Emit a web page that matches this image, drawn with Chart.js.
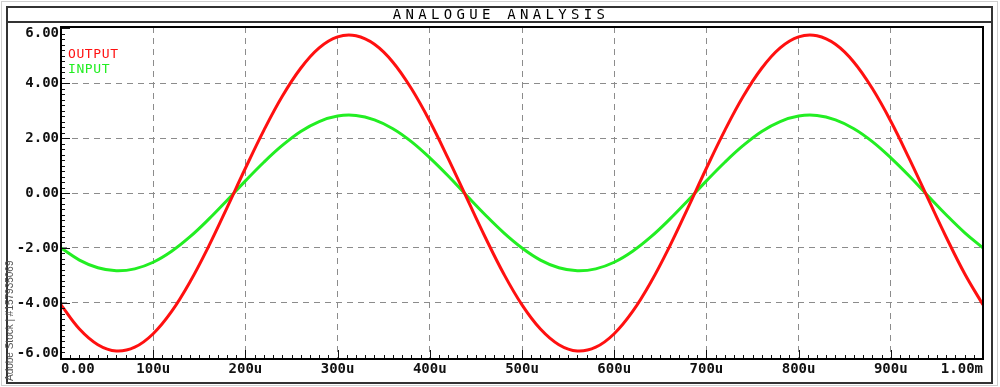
<!DOCTYPE html>
<html><head><meta charset="utf-8">
<script src="https://cdn.jsdelivr.net/npm/chart.js@4.4.1/dist/chart.umd.min.js"></script>
<style>html,body{margin:0;padding:0;background:#fff;overflow:hidden}canvas{display:block}</style>
</head><body><canvas id="c" width="1000" height="387"></canvas>
<script>
// time in microseconds
const times = [0,20,40,60,80,100,120,140,160,180,200,220,240,260,280,300,320,340,360,380,400,420,440,460,480,
               500,520,540,560,580,600,620,640,660,680,700,720,740,760,780,800,820,840,860,880,900,920,940,960,980,1000];
const outputV = [-4.07,-4.95,-5.52,-5.75,-5.61,-5.12,-4.31,-3.23,-1.95,-0.54,0.90,2.28,3.52,4.54,5.28,5.68,5.72,5.41,4.76,3.80,2.61,1.25,-0.18,-1.60,-2.93,
                 -4.07,-4.95,-5.52,-5.75,-5.61,-5.12,-4.31,-3.23,-1.95,-0.54,0.90,2.28,3.52,4.54,5.28,5.68,5.72,5.41,4.76,3.80,2.61,1.25,-0.18,-1.60,-2.93,-4.07];
const inputV = [-2.00,-2.44,-2.72,-2.83,-2.76,-2.52,-2.12,-1.59,-0.96,-0.27,0.44,1.12,1.73,2.24,2.60,2.80,2.82,2.66,2.34,1.87,1.28,0.62,-0.09,-0.79,-1.44,
                -2.00,-2.44,-2.72,-2.83,-2.76,-2.52,-2.12,-1.59,-0.96,-0.27,0.44,1.12,1.73,2.24,2.60,2.80,2.82,2.66,2.34,1.87,1.28,0.62,-0.09,-0.79,-1.44,-2.00];
const yTicks = [-6,-4,-2,0,2,4,6];
const yTickLabels = ['-6.00','-4.00','-2.00','0.00','2.00','4.00','6.00'];
const xTicks = [0,100,200,300,400,500,600,700,800,900,1000];
const xTickLabels = ['0.00','100u','200u','300u','400u','500u','600u','700u','800u','900u','1.00m'];
const titleText = 'ANALOGUE ANALYSIS';
const seriesNames = ['OUTPUT','INPUT'];
const seriesColors = ['#ff1010','#22ee22'];

const MONO = '"DejaVu Sans Mono", monospace';

const decor = {
  id: 'decor',
  afterDraw(chart) {
    const ctx = chart.ctx, a = chart.chartArea;
    const xs = chart.scales.x, ys = chart.scales.y;
    ctx.save();
    // minor / major ticks inside plot
    ctx.strokeStyle = '#111';
    ctx.lineWidth = 1;
    ctx.beginPath();
    for (let i = 0; i <= 100; i++) {
      const v = i * 10;
      const px = Math.round(xs.getPixelForValue(v)) + 0.5;
      const len = (i % 10 === 0) ? 9 : 4;
      ctx.moveTo(px, a.bottom); ctx.lineTo(px, a.bottom - len);
    }
    for (let i = -30; i <= 30; i++) {
      const v = i * 0.2;
      const py = Math.round(ys.getPixelForValue(v)) + 0.5;
      if (py < a.top || py > a.bottom) continue;
      const len = (i % 10 === 0) ? 9 : 4;
      ctx.moveTo(a.left, py); ctx.lineTo(a.left + len, py);
    }
    ctx.stroke();
    // plot border
    ctx.strokeStyle = '#000';
    ctx.lineWidth = 2;
    ctx.strokeRect(a.left, a.top, a.right - a.left, a.bottom - a.top);
    // outer light frame
    ctx.strokeStyle = '#cfcfcf';
    ctx.lineWidth = 1;
    ctx.strokeRect(1.5, 1.5, 996, 384);
    // main frame
    ctx.strokeStyle = '#333';
    ctx.lineWidth = 2;
    ctx.strokeRect(7, 7, 985, 376);
    ctx.beginPath(); ctx.moveTo(7, 22); ctx.lineTo(992, 22); ctx.stroke();
    // title
    ctx.fillStyle = '#000';
    ctx.font = '14px ' + MONO;
    ctx.letterSpacing = '4.3px';
    ctx.textAlign = 'center';
    ctx.textBaseline = 'middle';
    ctx.fillText(titleText, 501, 15.5);
    // legend
    ctx.font = '13px ' + MONO;
    ctx.letterSpacing = '0.6px';
    ctx.textAlign = 'left';
    chart.data.datasets.forEach((d, i) => {
      ctx.fillStyle = d.borderColor;
      ctx.fillText(d.label, a.left + 7, 55 + i * 15);
    });
    // side watermark credit
    ctx.letterSpacing = '0px';
    ctx.fillStyle = '#555';
    ctx.font = '10px "Liberation Sans", sans-serif';
    ctx.translate(10, 381);
    ctx.rotate(-Math.PI / 2);
    ctx.textAlign = 'left';
    ctx.fillText('Adobe Stock | #157935069', 0, 0);
    ctx.restore();
  }
};

const gridColor = (edgeVals) => (c) => (c.tick && edgeVals.includes(c.tick.value)) ? 'rgba(0,0,0,0)' : '#8c8c8c';

new Chart(document.getElementById('c'), {
  type: 'line',
  data: {
    labels: times,
    datasets: [
      { label: seriesNames[0], data: times.map((t, i) => ({x: t, y: outputV[i]})), borderColor: seriesColors[0], borderWidth: 3, pointRadius: 0, tension: 0.4, fill: false },
      { label: seriesNames[1], data: times.map((t, i) => ({x: t, y: inputV[i]})), borderColor: seriesColors[1], borderWidth: 3, pointRadius: 0, tension: 0.4, fill: false }
    ]
  },
  options: {
    responsive: false,
    animation: false,
    devicePixelRatio: 1,
    layout: { padding: { top: 27, right: 17, left: 0, bottom: 0 } },
    plugins: { legend: { display: false }, title: { display: false }, tooltip: { enabled: false } },
    scales: {
      x: {
        type: 'linear', min: 0, max: 1000,
        afterBuildTicks: s => { s.ticks = xTicks.map(v => ({ value: v })); },
        afterFit: s => { s.height = 28; },
        border: { display: false, dash: [6, 5] },
        grid: { drawTicks: false, color: gridColor([0, 1000]), lineWidth: 1 },
        ticks: {
          autoSkip: false, maxRotation: 0, align: 'inner', padding: 2,
          color: '#111', font: { family: MONO, size: 14, weight: 'bold' },
          callback: (v) => xTickLabels[xTicks.indexOf(v)]
        }
      },
      y: {
        type: 'linear', min: -6.04, max: 6.04,
        afterBuildTicks: s => { s.ticks = yTicks.map(v => ({ value: v })); },
        afterFit: s => { s.width = 61; },
        border: { display: false, dash: [6, 5] },
        grid: { drawTicks: false, color: gridColor([-6, 6]), lineWidth: 1 },
        ticks: {
          padding: 2, color: '#111',
          font: (c) => ({ family: MONO, size: 14, weight: 'bold',
                          lineHeight: (c.tick && Math.abs(c.tick.value) === 6) ? '10px' : 1.2 }),
          callback: (v) => {
            const lab = yTickLabels[yTicks.indexOf(v)];
            if (v === 6) return ['', lab];
            if (v === -6) return [lab, ''];
            return lab;
          }
        }
      }
    }
  },
  plugins: [decor]
});
</script>
</body></html>
